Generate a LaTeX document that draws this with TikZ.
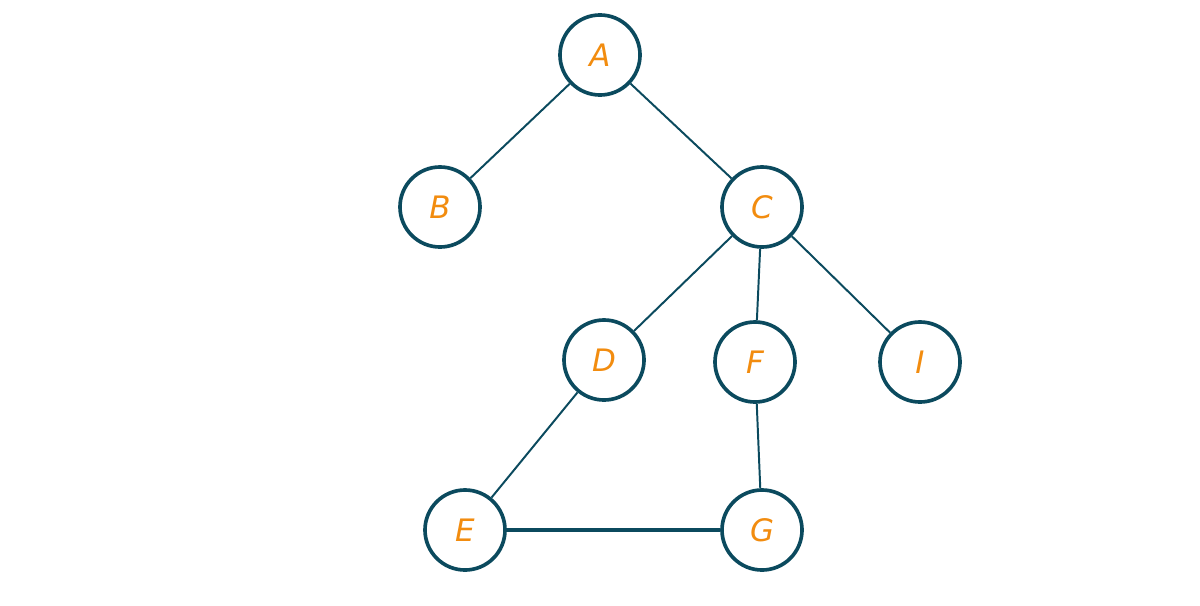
\documentclass[tikz,border=0pt]{standalone}
\usepackage{fontspec}
\newfontfamily\hand{DejaVu Sans}
\definecolor{ring}{HTML}{0B4A5E}
\definecolor{lbl}{HTML}{F28C0F}
\begin{document}
\begin{tikzpicture}[x=0.025cm,y=-0.025cm,
  vert/.style={circle,draw=ring,line width=2.6pt,fill=white,minimum size=2cm,inner sep=0pt,text=lbl,font=\hand\itshape\fontsize{22}{24}\selectfont},
  edge/.style={draw=ring,line width=1.4pt}]
\useasboundingbox (0,0) rectangle (1200,605);
\node[vert] (A) at (600,55) {A};
\node[vert] (B) at (440,207) {B};
\node[vert] (C) at (762,207) {C};
\node[vert] (D) at (604,360) {D};
\node[vert] (F) at (755,362) {F};
\node[vert] (I) at (920,362) {I};
\node[vert] (E) at (465,530) {E};
\node[vert] (G) at (762,530) {G};
\begin{scope}[on background layer/.try]
\end{scope}
\draw[edge] (A) -- (B);
\draw[edge] (A) -- (C);
\draw[edge] (C) -- (D);
\draw[edge] (C) -- (F);
\draw[edge] (C) -- (I);
\draw[edge] (D) -- (E);
\draw[edge] (F) -- (G);
\draw[edge,line width=2.2pt] (E) -- (G);
\end{tikzpicture}
\end{document}
